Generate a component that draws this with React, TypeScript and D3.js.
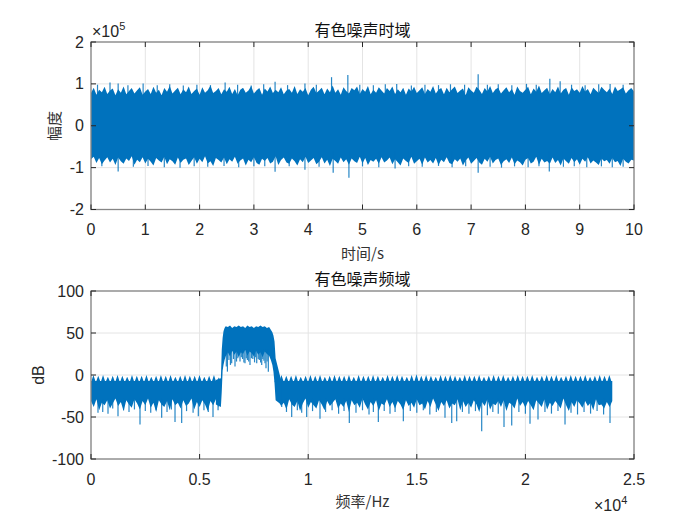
import React from 'react';
import * as d3 from 'd3';

const BLUE = '#0072BD';

// ---- 有色噪声时域 (amplitude in units of 1e5) ----
const timeStep = 0.05;
const timeHi = [
  0.78, 0.91, 0.74, 0.86, 0.80, 0.93, 0.76, 0.84, 0.89, 0.73,
  0.87, 0.79, 0.94, 0.75, 0.83, 0.90, 0.77, 0.85, 0.92, 0.74,
  0.82, 0.88, 0.76, 0.93, 0.79, 0.86, 0.73, 0.90, 0.81, 0.95,
  0.77, 0.84, 0.91, 0.75, 0.87, 0.80, 0.94, 0.76, 0.83, 0.89,
  0.74, 0.92, 0.79, 0.85, 0.96, 0.78, 0.83, 0.90, 0.75, 0.87,
  0.81, 0.93, 0.76, 0.88, 0.73, 0.86, 0.91, 0.79, 0.84, 0.95,
  0.77, 0.85, 0.90, 0.74, 0.89, 0.82, 0.94, 0.78, 0.86, 0.80,
  0.92, 0.75, 0.84, 0.88, 0.79, 0.95, 0.76, 0.87, 0.81, 0.90,
  0.73, 0.86, 0.93, 0.78, 0.84, 0.91, 0.75, 0.89, 0.80, 0.96,
  0.79, 0.87, 0.74, 0.92, 0.83, 0.77, 0.90, 0.85, 0.94, 0.76,
  0.88, 0.81, 0.95, 0.75, 0.86, 0.79, 0.92, 0.84, 0.77, 0.90,
  0.83, 0.94, 0.76, 0.87, 0.80, 0.91, 0.74, 0.89, 0.82, 0.93,
  0.78, 0.85, 0.92, 0.76, 0.88, 0.81, 0.95, 0.77, 0.86, 0.90,
  0.75, 0.91, 0.80, 0.87, 0.94, 0.78, 0.84, 0.89, 0.73, 0.92,
  0.84, 0.79, 0.93, 0.86, 0.76, 0.90, 0.82, 0.95, 0.78, 0.87,
  0.91, 0.77, 0.85, 0.92, 0.80, 0.88, 0.74, 0.94, 0.83, 0.79,
  0.86, 0.93, 0.75, 0.89, 0.81, 0.96, 0.78, 0.85, 0.91, 0.76,
  0.88, 0.80, 0.94, 0.77, 0.86, 0.90, 0.74, 0.92, 0.83, 0.87,
  0.79, 0.95, 0.82, 0.88, 0.75, 0.91, 0.84, 0.78, 0.93, 0.86,
  0.80, 0.89, 0.76, 0.94, 0.83, 0.87, 0.92, 0.77, 0.85, 0.90,
  0.82,
];
const timeLo = [
  -0.80, -0.74, -0.89, -0.77, -0.92, -0.83, -0.75, -0.88, -0.79, -0.94,
  -0.76, -0.85, -0.91, -0.78, -0.84, -0.73, -0.93, -0.81, -0.87, -0.75,
  -0.90, -0.79, -0.86, -0.95, -0.77, -0.83, -0.88, -0.74, -0.92, -0.80,
  -0.85, -0.93, -0.76, -0.89, -0.81, -0.78, -0.94, -0.84, -0.75, -0.91,
  -0.79, -0.87, -0.73, -0.90, -0.85, -0.96, -0.77, -0.82, -0.88, -0.76,
  -0.92, -0.80, -0.86, -0.74, -0.91, -0.83, -0.78, -0.95, -0.81, -0.87,
  -0.75, -0.89, -0.93, -0.79, -0.84, -0.77, -0.90, -0.86, -0.73, -0.94,
  -0.82, -0.76, -0.88, -0.91, -0.78, -0.85, -0.95, -0.80, -0.87, -0.74,
  -0.89, -0.83, -0.77, -0.92, -0.86, -0.75, -0.90, -0.81, -0.96, -0.79,
  -0.84, -0.91, -0.76, -0.87, -0.80, -0.93, -0.78, -0.85, -0.89, -0.74,
  -0.90, -0.77, -0.94, -0.82, -0.86, -0.79, -0.91, -0.75, -0.88, -0.83,
  -0.76, -0.92, -0.80, -0.87, -0.95, -0.78, -0.84, -0.89, -0.74, -0.91,
  -0.85, -0.79, -0.93, -0.76, -0.88, -0.82, -0.90, -0.77, -0.94, -0.81,
  -0.87, -0.75, -0.89, -0.92, -0.80, -0.86, -0.78, -0.95, -0.83, -0.76,
  -0.91, -0.84, -0.77, -0.88, -0.93, -0.79, -0.86, -0.74, -0.90, -0.82,
  -0.78, -0.94, -0.85, -0.80, -0.89, -0.76, -0.92, -0.83, -0.87, -0.95,
  -0.81, -0.77, -0.90, -0.86, -0.74, -0.93, -0.79, -0.88, -0.84, -0.91,
  -0.76, -0.89, -0.82, -0.95, -0.78, -0.85, -0.91, -0.77, -0.87, -0.80,
  -0.93, -0.79, -0.86, -0.75, -0.90, -0.83, -0.88, -0.94, -0.78, -0.85,
  -0.82, -0.91, -0.77, -0.87, -0.84, -0.96, -0.79, -0.86, -0.90, -0.81,
  -0.83,
];
const timeSpikesUp = [
  [0.12, 0.98], [0.35, 1.03], [0.5, 1.01], [0.68, 0.97], [0.96, 1.01], [1.22, 0.97],
  [1.45, 0.99], [1.7, 0.96], [1.95, 0.98], [2.2, 0.97], [2.47, 1.03], [2.7, 0.98],
  [2.95, 0.96], [3.18, 0.99], [3.39, 1.05], [3.62, 0.97], [3.94, 1.01], [4.15, 0.98],
  [4.43, 1.16], [4.73, 1.21], [4.95, 0.98], [5.2, 0.97], [5.42, 0.99], [5.63, 1.0],
  [5.9, 0.96], [6.15, 0.98], [6.4, 0.97], [6.62, 0.99], [6.88, 0.98], [7.13, 1.23],
  [7.3, 0.98], [7.5, 0.99], [7.75, 0.97], [8.02, 1.0], [8.2, 0.98], [8.45, 1.12],
  [8.64, 1.06], [8.85, 0.98], [9.1, 0.97], [9.35, 0.99], [9.56, 1.0], [9.8, 0.98],
];
const timeSpikesDown = [
  [0.2, -0.97], [0.5, -1.09], [0.78, -0.98], [1.05, -0.96], [1.35, -0.99], [1.64, -1.0],
  [1.9, -0.97], [2.15, -0.98], [2.45, -0.96], [2.72, -0.99], [3.0, -0.97], [3.2, -0.97],
  [3.39, -1.1], [3.65, -0.97], [3.94, -1.05], [4.2, -0.98], [4.46, -1.12], [4.75, -1.24],
  [5.0, -0.97], [5.3, -0.99], [5.6, -1.02], [5.85, -0.97], [6.1, -0.98], [6.4, -0.96],
  [6.65, -0.99], [6.9, -0.97], [7.13, -1.12], [7.35, -0.98], [7.56, -1.0], [7.8, -0.97],
  [8.05, -0.99], [8.25, -0.97], [8.44, -1.09], [8.7, -0.98], [8.9, -0.97], [9.13, -0.99],
  [9.4, -0.97], [9.6, -0.99], [9.8, -0.98],
];
const timeTicks = [0, 1, 2, 3, 4, 5, 6, 7, 8, 9, 10];
const ampTicks = [-2, -1, 0, 1, 2];

// ---- 有色噪声频域 (Hz, dB) ----
const baseStep = 125;
const baseFloorTop = -7;
const baseBottom = [
  -31, -38, -29, -42, -33, -36, -30, -40, -34, -28,
  -37, -32, -43, -30, -35, -39, -29, -34, -41, -31,
  -36, -28, -39, -33, -44, -30, -35, -38, -31, -42,
  -29, -36, -33, -40, -30, -37, -34, -28, -41, -32,
  -38, -30, -35, -43, -31, -36, -29, -39,
  null, null, null, null, null, null, null, null, null, null, null,
  null, null, null, null, null, null, null, null, null, null,
  -30, -37, -33, -41, -29, -35, -38, -31, -43, -34,
  -28, -39, -32, -36, -40, -30, -35, -42, -31, -37,
  -33, -29, -40, -34, -38, -31, -44, -30, -36, -33,
  -39, -28, -35, -41, -32, -37, -30, -43, -34, -36,
  -29, -38, -32, -40, -31, -35, -42, -30, -37, -33,
  -39, -29, -36, -34, -41, -31, -38, -28, -35, -43,
  -32, -37, -30, -40, -34, -36, -29, -42, -31, -38,
  -33, -39, -30, -35, -44, -32, -37, -29, -41, -34,
  -36, -31, -38, -30, -43, -33, -35, -40, -28, -37,
  -32, -39, -31, -36, -42, -30, -34, -38, -29, -41,
  -33, -37, -31, -35, -40, -28, -36, -43, -32, -38,
  -30, -34, -39, -31, -37, -33, -42, -29, -36, -35,
  -40, -32, -38, -31,
];
const toothStart = 111;
const toothStep = 222;
const toothBase = -8;
const toothPeak = [
  0, -1, 0, -2, -1, 0, -1, -2, 0, -1, -1, 0, -2, -1, 0, -1, 0, -2, -1, 0, -1, -1, 0, -2, -1, 0, -3,
  null, null, null, null, null, null, null, null, null, null, null,
  -2, 0, -1, -1, 0, -2, -1, 0, -1, 0,
  -2, -1, 0, -1, -1, 0, -2, 0, -1, -1,
  0, -1, -2, 0, -1, 0, -1, -2, 0, 1,
  -1, 0, -1, -2, 0, -1, 0, -1, -2, 0,
  -1, -1, 0, -2, -1, 0, -1, 0, -2, -1,
  0, -1, -1, 0, -2, -1, 0, -1, 0, -2,
  -1, 0, -1, -1, 0, -2, -1, 0, -1, 0,
];
const bandF = [
  5750, 5980, 6020, 6060, 6100, 6150, 6200,
  6300, 6400, 6500, 6600, 6700, 6800, 6900, 7000, 7100, 7200,
  7300, 7400, 7500, 7600, 7700, 7800, 7900, 8000, 8100, 8200,
  8280, 8350, 8400, 8450, 8500, 8750,
];
const bandTop = [
  -6, -4, 30, 44, 52, 56, 58,
  57, 59, 56, 58, 57, 59, 57, 58, 56, 59,
  57, 58, 56, 58, 57, 59, 57, 58, 56, 57,
  54, 51, 47, 40, 20, -6,
];
const bandBottom = [
  -35, -38, -20, 5, 12, 18, 22,
  27, 22, 29, 24, 28, 21, 27, 25, 30, 23,
  28, 26, 22, 29, 24, 27, 21, 28, 25, 23,
  18, 12, 4, -10, -30, -35,
];
const specSpikes = [
  [322, -45], [540, -44], [783, -46], [1000, -40], [1243, -49], [1500, -42], [1750, -44], [2000, -41],
  [2256, -59], [2500, -43], [2750, -45], [3000, -42], [3254, -51], [3500, -44], [3700, -41], [3868, -56],
  [4175, -57], [4400, -43], [4700, -45], [4941, -49], [5200, -42], [5400, -44], [5617, -50], [5850, -42],
  [8780, -38], [9000, -44], [9240, -50], [9500, -42], [9700, -45], [9930, -50], [10200, -43], [10543, -52],
  [10800, -44], [11100, -42], [11400, -46], [11650, -43], [11893, -57], [12200, -45], [12500, -42], [12800, -47],
  [13000, -44], [13229, -56], [13500, -43], [13766, -46], [14000, -44], [14380, -55], [14700, -43], [15000, -45],
  [15300, -42], [15600, -47], [15900, -44], [16298, -51], [16608, -57], [16837, -55], [17100, -44], [17400, -46],
  [17700, -43], [17988, -67], [18250, -48], [18500, -44], [18750, -46], [19015, -62], [19370, -60], [19700, -44],
  [20000, -46], [20212, -58], [20580, -53], [20900, -44], [21200, -46], [21500, -43], [21824, -59], [22100, -45],
  [22400, -47], [22700, -44], [23000, -46], [23300, -43], [23600, -47], [23895, -57],
];
const bandSpikes = [
  [6230, 10], [6280, 4], [6350, 18], [6420, 12], [6477, 14], [6560, 19], [6630, 10], [6700, 16],
  [6760, 20], [6860, 16], [6920, 21], [6980, 19], [7040, 15], [7090, 14], [7150, 20], [7200, 18],
  [7260, 16], [7320, 12], [7390, 20], [7450, 19], [7530, 15], [7580, 21], [7630, 14], [7700, 19],
  [7750, 18], [7810, 15], [7860, 12], [7910, 19], [7960, 17], [8010, 14], [8057, 8], [8110, 16], [8164, 4],
];
const freqTicks = [0, 5000, 10000, 15000, 20000, 25000];
const dbTicks = [-100, -50, 0, 50, 100];

const LEFT = 91;
const RIGHT = 634;
const TICK_FONT = '"Liberation Sans", Arial, sans-serif';
const CJK_FONT = '"Noto Sans CJK SC", sans-serif';
const TICK_SIZE = 16;

function Frame({ x, y, xTicks, yTicks, xFmt, yFmt }) {
  const [xa, xb] = x.range();
  const [yb, ya] = y.range();
  const tl = 5;
  return (
    <g>
      <rect x={xa} y={ya} width={xb - xa} height={yb - ya} fill="none" stroke="#868686" strokeWidth={1.3} />
      {xTicks.map(t => (
        <g key={'xt' + t}>
          <line x1={x(t)} x2={x(t)} y1={yb} y2={yb - tl} stroke="#262626" />
          <line x1={x(t)} x2={x(t)} y1={ya} y2={ya + tl} stroke="#262626" />
          <text x={x(t)} y={yb + 20} textAnchor="middle" dominantBaseline="central"
            fontFamily={TICK_FONT} fontSize={TICK_SIZE} fill="#262626">{xFmt(t)}</text>
        </g>
      ))}
      {yTicks.map(t => (
        <g key={'yt' + t}>
          <line x1={xa} x2={xa + tl} y1={y(t)} y2={y(t)} stroke="#262626" />
          <line x1={xb} x2={xb - tl} y1={y(t)} y2={y(t)} stroke="#262626" />
          <text x={xa - 7} y={y(t)} textAnchor="end" dominantBaseline="central"
            fontFamily={TICK_FONT} fontSize={TICK_SIZE} fill="#262626">{yFmt(t)}</text>
        </g>
      ))}
    </g>
  );
}

function Grid({ x, y, xTicks, yTicks }) {
  const [xa, xb] = x.range();
  const [yb, ya] = y.range();
  return (
    <g stroke="#e4e4e4" strokeWidth={1}>
      {xTicks.map(t => <line key={'gx' + t} x1={x(t)} x2={x(t)} y1={ya} y2={yb} />)}
      {yTicks.map(t => <line key={'gy' + t} x1={xa} x2={xb} y1={y(t)} y2={y(t)} />)}
    </g>
  );
}

export default function App() {
  // time domain
  const xT = d3.scaleLinear().domain([0, 10]).range([LEFT, RIGHT]);
  const yT = d3.scaleLinear().domain([-2, 2]).range([209.5, 42]);
  const timeArea = d3.area<number>()
    .x((_, i) => xT(i * timeStep))
    .y0((_, i) => yT(timeLo[i]))
    .y1(d => yT(d));

  // frequency domain
  const xF = d3.scaleLinear().domain([0, 25000]).range([LEFT, RIGHT]);
  const yF = d3.scaleLinear().domain([-100, 100]).range([459, 291]);
  const baseArea = d3.area<number | null>()
    .defined(d => d !== null)
    .x((_, i) => xF(i * baseStep))
    .y0(d => yF(d as number))
    .y1(() => yF(baseFloorTop));
  const bandArea = d3.area<number>()
    .x(d => xF(d))
    .y0((_, i) => yF(bandBottom[i]))
    .y1((_, i) => yF(bandTop[i]));
  const teethPath = toothPeak
    .map((p, i) => {
      if (p === null) return '';
      const f = toothStart + i * toothStep;
      return `M${xF(f - 100)},${yF(toothBase)}L${xF(f)},${yF(p)}L${xF(f + 100)},${yF(toothBase)}Z`;
    })
    .join('');

  return (
    <svg width={700} height={525} style={{ position: 'fixed', left: 0, top: 0, background: '#fff' }}>
      <rect width={700} height={525} fill="#fff" />

      {/* ---- 时域 ---- */}
      <Grid x={xT} y={yT} xTicks={timeTicks} yTicks={ampTicks} />
      <path d={timeArea(timeHi) || ''} fill={BLUE} />
      <g stroke={BLUE} strokeWidth={1.2} opacity={0.85}>
        {timeSpikesUp.map(([t, v], i) => (
          <line key={'su' + i} x1={xT(t)} x2={xT(t)} y1={yT(0.6)} y2={yT(v)} />
        ))}
        {timeSpikesDown.map(([t, v], i) => (
          <line key={'sd' + i} x1={xT(t)} x2={xT(t)} y1={yT(-0.6)} y2={yT(v)} />
        ))}
      </g>
      <Frame x={xT} y={yT} xTicks={timeTicks} yTicks={ampTicks} xFmt={d => String(d)} yFmt={d => String(d)} />
      <text x={362.5} y={29} textAnchor="middle" dominantBaseline="central" fontFamily={CJK_FONT} fontSize={16} fill="#111">有色噪声时域</text>
      <text x={362.5} y={252} textAnchor="middle" dominantBaseline="central" fontFamily={CJK_FONT} fontSize={15} fill="#333">时间/s</text>
      <text transform="translate(53,126) rotate(-90)" textAnchor="middle" dominantBaseline="central" fontFamily={CJK_FONT} fontSize={15} fill="#333">幅度</text>
      <text x={92} y={37} fontFamily={TICK_FONT} fontSize={TICK_SIZE} fill="#262626">
        ×10<tspan fontSize={11} dy={-7}>5</tspan>
      </text>

      {/* ---- 频域 ---- */}
      <Grid x={xF} y={yF} xTicks={freqTicks} yTicks={dbTicks} />
      <path d={baseArea(baseBottom) || ''} fill={BLUE} />
      <path d={teethPath} fill={BLUE} />
      <path d={bandArea(bandF) || ''} fill={BLUE} />
      <g stroke={BLUE} strokeWidth={1.2} opacity={0.85}>
        {specSpikes.map(([f, v], i) => (
          <line key={'fs' + i} x1={xF(f)} x2={xF(f)} y1={yF(-28)} y2={yF(v)} />
        ))}
        {bandSpikes.map(([f, v], i) => (
          <line key={'bs' + i} x1={xF(f)} x2={xF(f)} y1={yF(30)} y2={yF(v)} />
        ))}
      </g>
      <Frame x={xF} y={yF} xTicks={freqTicks} yTicks={dbTicks} xFmt={d => String(d / 10000)} yFmt={d => String(d)} />
      <text x={362.5} y={278} textAnchor="middle" dominantBaseline="central" fontFamily={CJK_FONT} fontSize={16} fill="#111">有色噪声频域</text>
      <text x={362.5} y={500} textAnchor="middle" dominantBaseline="central" fontFamily={CJK_FONT} fontSize={15} fill="#333">频率/Hz</text>
      <text transform="translate(38,375) rotate(-90)" textAnchor="middle" dominantBaseline="central" fontFamily={TICK_FONT} fontSize={TICK_SIZE} fill="#262626">dB</text>
      <text x={594} y={511} fontFamily={TICK_FONT} fontSize={TICK_SIZE} fill="#262626">
        ×10<tspan fontSize={11} dy={-7}>4</tspan>
      </text>
    </svg>
  );
}
